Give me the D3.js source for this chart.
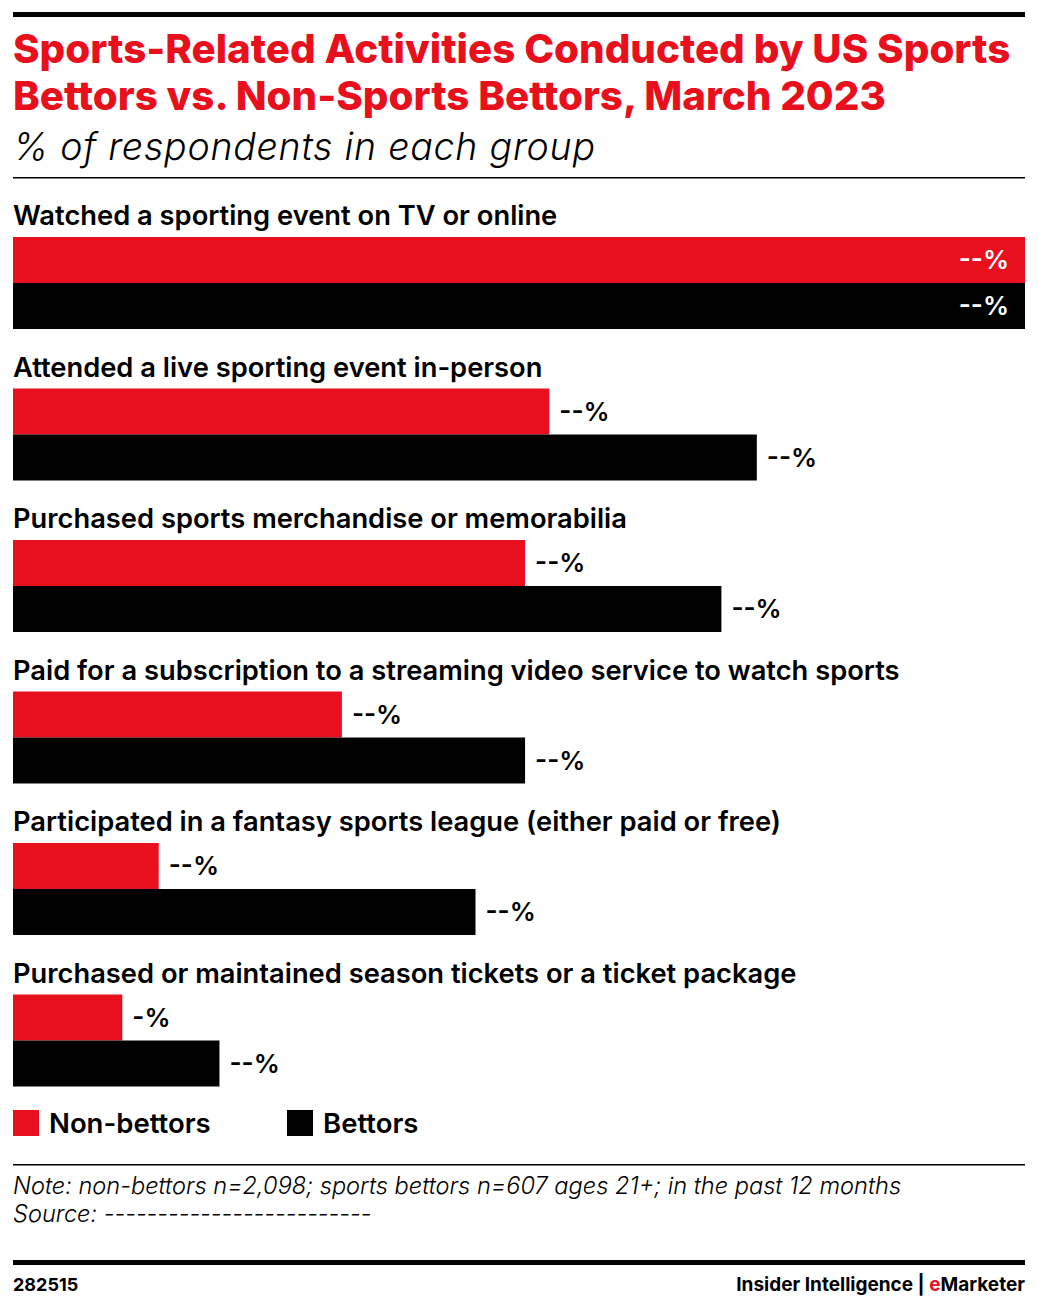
<!DOCTYPE html>
<html><head><meta charset="utf-8">
<script src="https://cdn.jsdelivr.net/npm/d3@7"></script>
<style>body{margin:0;background:#fff;font-family:Inter,"Open Sans",sans-serif}</style>
</head><body><svg id="c"></svg>
<script>
var categories = ['Watched a sporting event on TV or online','Attended a live sporting event in-person','Purchased sports merchandise or memorabilia','Paid for a subscription to a streaming video service to watch sports','Participated in a fantasy sports league (either paid or free)','Purchased or maintained season tickets or a ticket package']
var nonBettors = [100, 53, 50.6, 32.5, 14.4, 10.8]
var bettors = [100, 73.5, 70, 50.6, 45.7, 20.4]
var nonLabels = ['--%','--%','--%','--%','--%','-%']
var betLabels = ['--%','--%','--%','--%','--%','--%']
var red = '#e8101c'

var W = 1038, H = 1309
var svg = d3.select('#c').attr('width', W).attr('height', H)

svg.append('rect').attr('x', 13).attr('y', 12).attr('width', 1012).attr('height', 5)
svg.append('text').attr('x', 13).attr('y', 63).attr('fill', red).attr('font-size', 40.3).attr('font-weight', 800)
  .text('Sports-Related Activities Conducted by US Sports')
svg.append('text').attr('x', 13).attr('y', 110).attr('fill', red).attr('font-size', 40.3).attr('font-weight', 800)
  .text('Bettors vs. Non-Sports Bettors, March 2023')
svg.append('text').attr('x', 13).attr('y', 160).attr('font-size', 37.5).attr('font-style', 'italic').attr('font-weight', 300)
  .attr('textLength', 582).text('% of respondents in each group')
svg.append('rect').attr('x', 13).attr('y', 177).attr('width', 1012).attr('height', 1.5)

var x = d3.scaleLinear().domain([0, 100]).range([13, 1025])
var barH = 46, step = 151.5, top0 = 237

var g = svg.selectAll('g.grp').data(categories).enter().append('g')
  .attr('transform', function(d, i) { return 'translate(0,' + (top0 + i * step) + ')' })

g.append('text').attr('x', 13).attr('y', -12).attr('font-size', 27.3).attr('font-weight', 600).text(function(d) { return d })

g.append('rect').attr('x', x(0)).attr('y', 0).attr('height', barH).attr('fill', red)
  .attr('width', function(d, i) { return x(nonBettors[i]) - x(0) })
g.append('rect').attr('x', x(0)).attr('y', barH).attr('height', barH).attr('fill', '#000')
  .attr('width', function(d, i) { return x(bettors[i]) - x(0) })

function lab(sel, vals, texts, y0) {
  sel.append('text').attr('y', y0 + barH / 2 + 9).attr('font-size', 26).attr('font-weight', 600)
    .attr('x', function(d, i) { return vals[i] >= 95 ? x(vals[i]) - 16 : x(vals[i]) + 10 })
    .attr('text-anchor', function(d, i) { return vals[i] >= 95 ? 'end' : 'start' })
    .attr('fill', function(d, i) { return vals[i] >= 95 ? '#fff' : '#000' })
    .text(function(d, i) { return texts[i] })
}
lab(g, nonBettors, nonLabels, 0)
lab(g, bettors, betLabels, barH)

var leg = [['Non-bettors', red, 13], ['Bettors', '#000', 287]]
leg.forEach(function(l) {
  svg.append('rect').attr('x', l[2]).attr('y', 1110).attr('width', 26).attr('height', 26).attr('fill', l[1])
  svg.append('text').attr('x', l[2] + 36).attr('y', 1133).attr('font-size', 27.5).attr('font-weight', 600).text(l[0])
})

svg.append('rect').attr('x', 13).attr('y', 1164).attr('width', 1012).attr('height', 1.5)
svg.append('text').attr('x', 13).attr('y', 1194).attr('font-size', 23.6).attr('font-style', 'italic').attr('font-weight', 300)
  .text('Note: non-bettors n=2,098; sports bettors n=607 ages 21+; in the past 12 months')
svg.append('text').attr('x', 13).attr('y', 1222).attr('font-size', 23.6).attr('font-style', 'italic').attr('font-weight', 300)
  .text('Source: -------------------------')
svg.append('rect').attr('x', 13).attr('y', 1260).attr('width', 1012).attr('height', 5)
svg.append('text').attr('x', 13).attr('y', 1291).attr('font-size', 18).attr('font-weight', 700).text('282515')
var ft = svg.append('text').attr('x', 1025).attr('y', 1291).attr('font-size', 19).attr('font-weight', 700).attr('text-anchor', 'end')
ft.append('tspan').text('Insider Intelligence | ')
ft.append('tspan').attr('fill', red).text('e')
ft.append('tspan').text('Marketer')
</script></body></html>
